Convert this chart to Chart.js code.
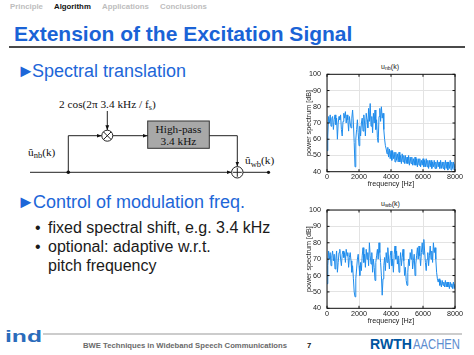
<!DOCTYPE html>
<html><head><meta charset="utf-8">
<script src="https://cdn.jsdelivr.net/npm/chart.js@4.4.1/dist/chart.umd.min.js"></script>
<style>
html,body{margin:0;padding:0;background:#fff}
body{width:474px;height:355px;position:relative;overflow:hidden;font-family:"Liberation Sans",Arial,Helvetica,sans-serif}
.a{position:absolute;white-space:nowrap;margin:0}
.nav{top:2px;font-size:7.8px;line-height:10px;font-weight:bold;color:#bdbdbd}
.h2{font-size:18px;line-height:18px;color:#1d66d8}
.bul{font-size:16px;line-height:16px;color:#1a1a1a}
.ct{font-size:7px;line-height:8px;color:#222}
.sb{font-size:5.3px;position:relative;top:1.3px}
canvas{position:absolute}
</style></head><body>
<div class="a nav" style="left:10px">Principle</div>
<div class="a nav" style="left:54px;color:#111">Algorithm</div>
<div class="a nav" style="left:102px">Applications</div>
<div class="a nav" style="left:160px">Conclusions</div>
<div class="a" style="left:14px;top:23px;font-size:21px;line-height:21px;font-weight:bold;color:#1a63d6">Extension of the Excitation Signal</div>
<div class="a" style="left:9px;top:46px;width:456px;height:1.5px;background:#4a4a4a"></div>

<div class="a h2" style="left:17px;top:62px">►</div>
<div class="a h2" style="left:32px;top:62px">Spectral translation</div>
<div class="a h2" style="left:17px;top:193px">►</div>
<div class="a h2" style="left:33px;top:193px">Control of modulation freq.</div>
<div class="a bul" style="left:35px;top:220px">•</div>
<div class="a bul" style="left:48px;top:220px">fixed spectral shift, e.g. 3.4 kHz</div>
<div class="a bul" style="left:35px;top:239px">•</div>
<div class="a bul" style="left:48px;top:239px">optional: adaptive w.r.t.</div>
<div class="a bul" style="left:48px;top:258px">pitch frequency</div>

<svg class="a" style="left:0;top:0" width="474" height="355" viewBox="0 0 474 355">
<defs><marker id="ar" viewBox="0 0 10 10" refX="10" refY="5" markerWidth="5" markerHeight="5" orient="auto" markerUnits="userSpaceOnUse"><path d="M0,1.2 L10,5 L0,8.8 z" fill="#111"/></marker></defs>
<g stroke="#222" stroke-width="1" fill="none">
<rect x="147.7" y="121" width="61.6" height="27.3" fill="#a8a8a8" stroke="#333"/>
<line x1="107.3" y1="111" x2="107.3" y2="130.2" marker-end="url(#ar)"/>
<path d="M68.3,172.3 V135.7 H101.8" marker-end="url(#ar)"/>
<line x1="112.8" y1="135.7" x2="147.7" y2="135.7" marker-end="url(#ar)"/>
<path d="M209.3,135.7 H237.3 V166.6" marker-end="url(#ar)"/>
<line x1="30" y1="172.3" x2="231.6" y2="172.3" marker-end="url(#ar)"/>
<line x1="243" y1="172.3" x2="268.5" y2="172.3"/>
<circle cx="107.3" cy="135.7" r="5.5" fill="#fff"/>
<path d="M103.4,131.8 L111.2,139.6 M111.2,131.8 L103.4,139.6"/>
<circle cx="237.3" cy="172.3" r="5.7" fill="#fff"/>
<path d="M237.3,167.8 V176.8 M232.8,172.3 H241.8"/>
</g>
<circle cx="68.3" cy="172.3" r="1.8" fill="#111"/>
<circle cx="268.5" cy="172.3" r="1.6" fill="#111"/>
<g font-family="Liberation Serif, Times New Roman, serif" font-size="11.3" fill="#111">
<text x="59" y="108">2 cos(2π 3.4 kHz / f<tspan font-size="8" dy="2">s</tspan><tspan dy="-2">)</tspan></text>
<text x="178.5" y="133.3" text-anchor="middle">High-pass</text>
<text x="178.5" y="145" text-anchor="middle">3.4 kHz</text>
<text x="28" y="155.5">û<tspan font-size="8.5" dy="2.5">nb</tspan><tspan dy="-2.5">(k)</tspan></text>
<text x="245" y="164">û<tspan font-size="8.5" dy="2.5">wb</tspan><tspan dy="-2.5">(k)</tspan></text>
</g>

<rect x="43" y="333.5" width="419" height="1" fill="#9a9a9a"/>
<text x="5" y="342" font-family="Liberation Sans, Arial" font-weight="bold" font-size="16" fill="#2a6cbb" textLength="37" lengthAdjust="spacingAndGlyphs">ind</text>
<text x="83" y="348" font-family="Liberation Sans, Arial" font-weight="bold" font-size="7.7" fill="#6a6a6a">BWE Techniques in Wideband Speech Communications</text>
<text x="307" y="348" font-family="Liberation Sans, Arial" font-weight="bold" font-size="7.7" fill="#111">7</text>
<text x="370" y="349.3" font-family="Liberation Sans, Arial" font-weight="bold" font-size="15" fill="#00549f" textLength="42" lengthAdjust="spacingAndGlyphs">RWTH</text>
<text x="413" y="349.3" font-family="Liberation Sans, Arial" font-size="15" fill="#5d8dcf" textLength="47" lengthAdjust="spacingAndGlyphs">AACHEN</text>
</svg>

<div class="a ct" style="left:381px;top:63px">u<span class="sb">nb</span>(k)</div>
<div class="a ct" style="left:381px;top:200px">u<span class="sb">wb</span>(k)</div>
<canvas id="c1" width="164" height="127" style="left:300px;top:62px"></canvas>
<canvas id="c2" width="164" height="128" style="left:300px;top:198px"></canvas>

<script>
const freqHz = [
0,50,100,150,200,250,300,350,400,450,
500,550,600,650,700,750,800,850,900,950,
1000,1050,1100,1150,1200,1250,1300,1350,1400,1450,
1500,1550,1600,1650,1700,1750,1800,1850,1900,1950,
2000,2050,2100,2150,2200,2250,2300,2350,2400,2450,
2500,2550,2600,2650,2700,2750,2800,2850,2900,2950,
3000,3050,3100,3150,3200,3250,3300,3350,3400,3450,
3500,3550,3600,3650,3700,3750,3800,3850,3900,3950,
4000,4050,4100,4150,4200,4250,4300,4350,4400,4450,
4500,4550,4600,4650,4700,4750,4800,4850,4900,4950,
5000,5050,5100,5150,5200,5250,5300,5350,5400,5450,
5500,5550,5600,5650,5700,5750,5800,5850,5900,5950,
6000,6050,6100,6150,6200,6250,6300,6350,6400,6450,
6500,6550,6600,6650,6700,6750,6800,6850,6900,6950,
7000,7050,7100,7150,7200,7250,7300,7350,7400,7450,
7500,7550,7600,7650,7700,7750,7800,7850,7900,7950,
8000];

// power spectrum of u_nb(k) in dB
const nbPowerDb = [
53,62,74,70,75,68,73,74,66,72,
75,69,73,60,70,74,72,75,66,62,
71,76,73,77,70,75,72,65,74,70,
67,73,78,70,58,43,60,66,72,64,
56,68,62,70,73,65,75,70,62,76,
72,67,79,71,82,68,74,64,76,70,
78,66,72,61,58,74,79,71,80,73,
76,66,60,56,54,51,55,49,54,48,
53,47,53,48,52,46,52,47,51,46,
52,46,50,45,51,46,50,45,50,45,
49,45,50,44,49,45,49,44,48,44,
49,44,48,43,48,44,48,43,47,44,
48,43,47,43,48,43,47,42,47,43,
47,42,46,43,47,42,46,42,47,43,
46,42,47,42,46,42,46,41,47,42,
46,41,46,42,47,41,46,42,46,41,
45];

// power spectrum of u_wb(k) in dB
const wbPowerDb = [
55,66,75,70,74,66,72,75,69,73,
64,70,75,62,68,74,76,70,66,73,
75,71,74,68,76,72,74,65,71,74,
69,62,66,58,50,47,58,64,70,73,
66,60,68,63,72,77,68,73,65,76,
70,74,66,80,72,67,74,62,70,65,
57,68,72,76,70,80,74,68,60,48,
58,66,71,63,74,68,77,70,64,72,
75,66,70,62,73,78,70,75,67,72,
62,68,74,66,71,76,69,60,65,57,
54,62,70,66,74,70,76,64,69,73,
60,67,72,77,70,78,72,66,74,80,
73,82,75,68,63,70,74,66,72,78,
70,75,68,80,74,77,70,62,58,56,
58,54,57,53,57,54,56,53,57,53,
56,53,56,52,56,53,55,52,56,52,
55];

const xTickHz = [0,2000,4000,6000,8000];
const yTickDb = [40,50,60,70,80,90,100];
const xTitle = 'frequency [Hz]';
const yTitle = 'power spectrum [dB]';

const FONT = "'Liberation Sans', Arial, Helvetica, sans-serif";
const FS = 7.2;
const framePlugin = {
  id: 'frame',
  afterDatasetsDraw(chart) {
    const {ctx, chartArea: a, scales} = chart;
    ctx.save();
    ctx.strokeStyle = '#111';
    ctx.lineWidth = 1;
    ctx.strokeRect(a.left, a.top, a.right - a.left, a.bottom - a.top);
    ctx.beginPath();
    scales.x.ticks.forEach(t => {
      const p = scales.x.getPixelForValue(t.value);
      ctx.moveTo(p, a.bottom); ctx.lineTo(p, a.bottom - 2.5);
      ctx.moveTo(p, a.top); ctx.lineTo(p, a.top + 2.5);
    });
    scales.y.ticks.forEach(t => {
      const p = scales.y.getPixelForValue(t.value);
      ctx.moveTo(a.left, p); ctx.lineTo(a.left + 2.5, p);
      ctx.moveTo(a.right, p); ctx.lineTo(a.right - 2.5, p);
    });
    ctx.stroke();
    ctx.restore();
  }
};

function build(id, values, xH, pad) {
  return new Chart(document.getElementById(id), {
    type: 'line',
    data: { datasets: [{
      data: freqHz.map((f, i) => ({x: f, y: values[i]})),
      borderColor: '#1f8cec', borderWidth: 1, pointRadius: 0, tension: 0, fill: false
    }]},
    options: {
      responsive: false, animation: false, devicePixelRatio: 1, events: [],
      layout: { padding: pad },
      plugins: { legend: {display: false}, tooltip: {enabled: false} },
      scales: {
        x: {
          type: 'linear', min: 0, max: 8000,
          afterBuildTicks(s) { s.ticks = xTickHz.map(v => ({value: v})); },
          afterFit(s) { s.height = xH; },
          grid: {color: '#e3e3e3', lineWidth: 1, drawTicks: false},
          border: {display: false},
          ticks: {font: {family: FONT, size: FS}, color: '#222', padding: 1, maxRotation: 0, autoSkip: false, callback: v => String(v)},
          title: {display: true, text: xTitle, font: {family: FONT, size: FS}, color: '#222', padding: 0}
        },
        y: {
          type: 'linear', min: 40, max: 100,
          afterBuildTicks(s) { s.ticks = yTickDb.map(v => ({value: v})); },
          afterFit(s) { s.width = 22; },
          grid: {color: '#e3e3e3', lineWidth: 1, drawTicks: false},
          border: {display: false},
          ticks: {font: {family: FONT, size: FS}, color: '#222', padding: 6, autoSkip: false, callback: v => String(v)},
          title: {display: true, text: yTitle, font: {family: FONT, size: FS}, color: '#222', padding: 0}
        }
      }
    },
    plugins: [framePlugin]
  });
}

build('c1', nbPowerDb, 17.1, {left: 5, right: 8, top: 12.3, bottom: 0.2});
build('c2', wbPowerDb, 17, {left: 5, right: 8, top: 12, bottom: 0.7});
</script>
</body></html>
